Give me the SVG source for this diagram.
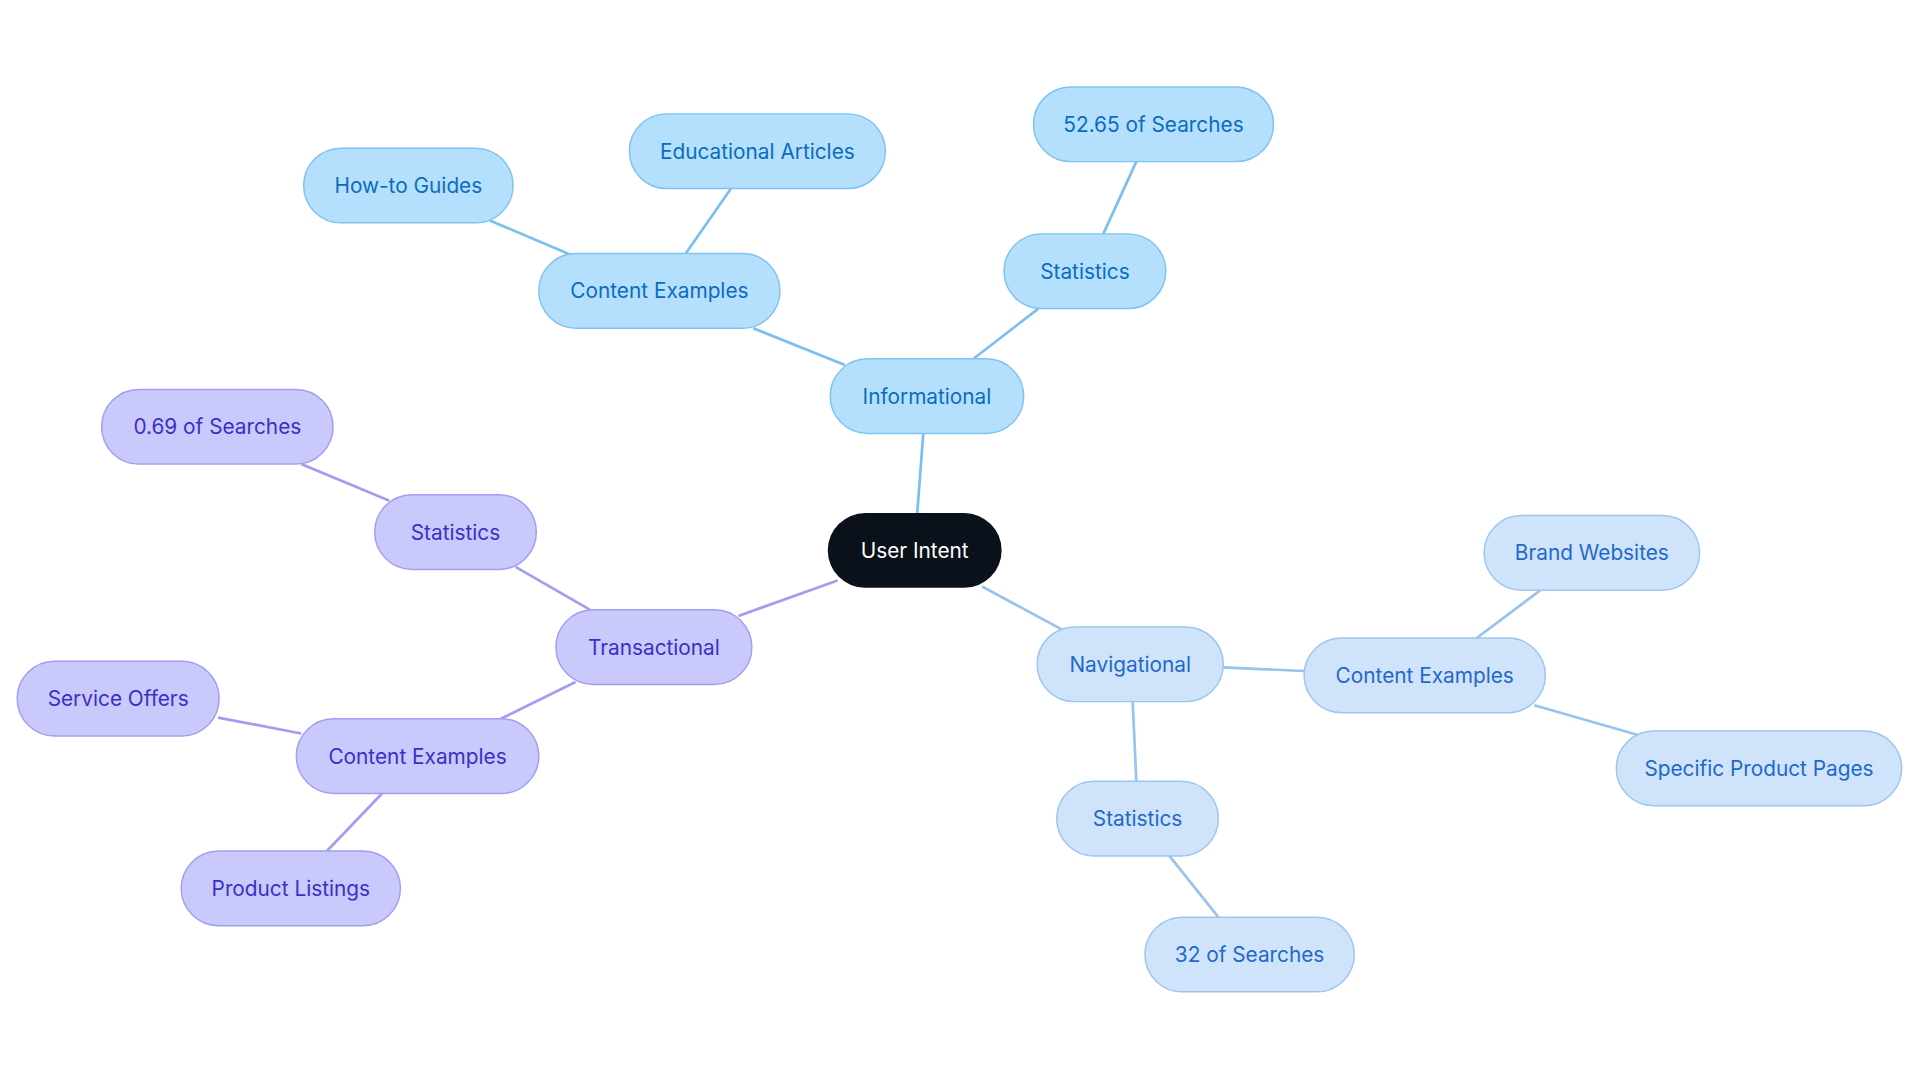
<svg xmlns="http://www.w3.org/2000/svg" width="1920" height="1083" viewBox="0 0 1920 1083">
<style>
text{font-family:Inter,"Noto Sans",sans-serif;font-size:17px;text-anchor:middle;dominant-baseline:central}
.i rect{fill:#b4e0fe;stroke:#7ec3f0;stroke-width:1.2}.i text{fill:#0b6cbd}
.t rect{fill:#c9c9fc;stroke:#a29ef0;stroke-width:1.2}.t text{fill:#3b2fc7}
.n rect{fill:#cfe3fa;stroke:#9cc6f0;stroke-width:1.2}.n text{fill:#1f69c9}
.ci{stroke:#7bbfee;stroke-width:2.2;fill:none}.ct{stroke:#a39cf0;stroke-width:2.2;fill:none}.cn{stroke:#97c3ef;stroke-width:2.2;fill:none}
</style>
<rect width="1920" height="1083" fill="#fff"/>
<g transform="scale(1.2245)">
<g id="connectors">
<path class="ci" d="M749 420L754 354M795 293L848 252M901 191L928 132M690 298L615 268M560 207L597 154M466 208L400 180"/>
<path class="ct" d="M684 474L603 503M482 498L421 463M318 409L246 379M470 557L407 588M246 599L178 586M312 648L267 695"/>
<path class="cn" d="M802 479L867 514M999 545L1065 548M1206 521L1258 482M1253 576L1337 600M925 573L928 638M955 699L995 749"/>
</g>
<g id="user-intent"><rect x="676" y="419" width="142" height="61" rx="30.5" fill="#0b111a"/><text x="747" y="449.5" fill="#fff">User Intent</text></g>
<g id="informational" class="i"><rect x="678" y="293" width="158" height="61" rx="30.5"/><text x="757" y="323.5">Informational</text></g>
<g id="info-content" class="i"><rect x="440" y="207" width="197" height="61" rx="30.5"/><text x="538.5" y="237.5">Content Examples</text></g>
<g id="howto" class="i"><rect x="248" y="121" width="171" height="61" rx="30.5"/><text x="333.5" y="151.5">How-to Guides</text></g>
<g id="edu" class="i"><rect x="514" y="93" width="209" height="61" rx="30.5"/><text x="618.5" y="123.5">Educational Articles</text></g>
<g id="info-stats" class="i"><rect x="820" y="191" width="132" height="61" rx="30.5"/><text x="886" y="221.5">Statistics</text></g>
<g id="info-val" class="i"><rect x="844" y="71" width="196" height="61" rx="30.5"/><text x="942" y="101.5">52.65 of Searches</text></g>
<g id="transactional" class="t"><rect x="454" y="498" width="160" height="61" rx="30.5"/><text x="534" y="528.5">Transactional</text></g>
<g id="trans-stats" class="t"><rect x="306" y="404" width="132" height="61" rx="30.5"/><text x="372" y="434.5">Statistics</text></g>
<g id="trans-val" class="t"><rect x="83" y="318" width="189" height="61" rx="30.5"/><text x="177.5" y="348.5">0.69 of Searches</text></g>
<g id="trans-content" class="t"><rect x="242" y="587" width="198" height="61" rx="30.5"/><text x="341" y="617.5">Content Examples</text></g>
<g id="service" class="t"><rect x="14" y="540" width="165" height="61" rx="30.5"/><text x="96.5" y="570.5">Service Offers</text></g>
<g id="product" class="t"><rect x="148" y="695" width="179" height="61" rx="30.5"/><text x="237.5" y="725.5">Product Listings</text></g>
<g id="navigational" class="n"><rect x="847" y="512" width="152" height="61" rx="30.5"/><text x="923" y="542.5">Navigational</text></g>
<g id="nav-content" class="n"><rect x="1065" y="521" width="197" height="61" rx="30.5"/><text x="1163.5" y="551.5">Content Examples</text></g>
<g id="brand" class="n"><rect x="1212" y="421" width="176" height="61" rx="30.5"/><text x="1300" y="451.5">Brand Websites</text></g>
<g id="specific" class="n"><rect x="1320" y="597" width="233" height="61" rx="30.5"/><text x="1436.5" y="627.5">Specific Product Pages</text></g>
<g id="nav-stats" class="n"><rect x="863" y="638" width="132" height="61" rx="30.5"/><text x="929" y="668.5">Statistics</text></g>
<g id="nav-val" class="n"><rect x="935" y="749" width="171" height="61" rx="30.5"/><text x="1020.5" y="779.5">32 of Searches</text></g>
</g>
</svg>
